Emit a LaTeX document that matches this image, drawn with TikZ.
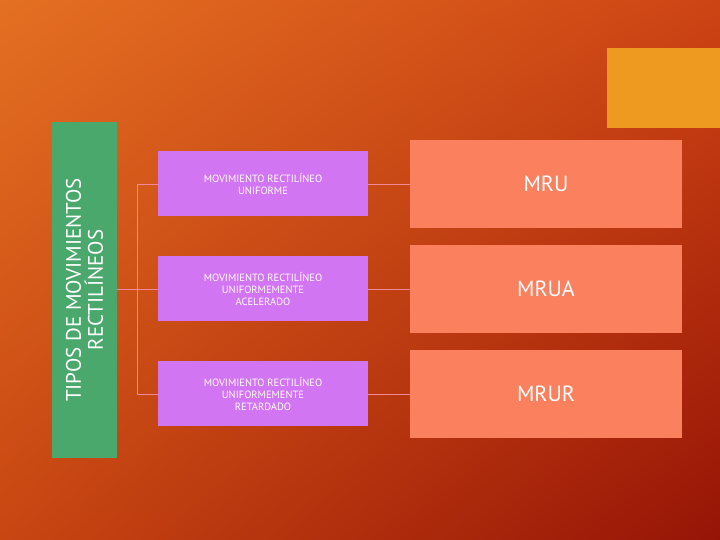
\documentclass[tikz,border=0pt]{standalone}
\usepackage{fontspec}
\setmainfont{PT Sans}
\usetikzlibrary{shadings}
\begin{document}
\begin{tikzpicture}[x=1pt,y=1pt,
  purp/.style={fill=purp,draw=none,minimum width=210,minimum height=65,align=center,text=white,font=\fontsize{10.5}{12}\selectfont,inner sep=0},
  salm/.style={fill=salm,draw=none,minimum width=272,minimum height=88,text=white,font=\fontsize{22}{24}\selectfont,inner sep=0},
  conn/.style={draw=lnk,line width=0.8}]
\definecolor{purp}{HTML}{D275F2}
\definecolor{salm}{HTML}{FA805E}
\definecolor{grn}{HTML}{4AA86C}
\definecolor{lnk}{HTML}{F08A9A}
\definecolor{og}{HTML}{EE9A20}
\definecolor{bgul}{RGB}{228,112,34}
\definecolor{bgur}{RGB}{205,68,20}
\definecolor{bgll}{RGB}{200,70,18}
\definecolor{bglr}{RGB}{150,20,6}
\useasboundingbox (0,0) rectangle (720,540);
\shade[upper left=bgul,upper right=bgur,lower left=bgll,lower right=bglr] (0,0) rectangle (720,540);
\fill[og] (607,412) rectangle (720,492);
\node[fill=grn,minimum width=65,minimum height=336,inner sep=0] (g) at (84.5,250) {};
\node[rotate=90,text=white,align=center,font=\fontsize{21}{22}\selectfont] (gt) at (84.5,250) {TIPOS DE MOVIMIENTOS\\RECTILÍNEOS};
\node[purp] (p1) at (263,356) {MOVIMIENTO RECTILÍNEO\\UNIFORME};
\node[purp] (p2) at (263,251) {MOVIMIENTO RECTILÍNEO\\UNIFORMEMENTE\\ACELERADO};
\node[purp] (p3) at (263,146) {MOVIMIENTO RECTILÍNEO\\UNIFORMEMENTE\\RETARDADO};
\node[salm] (s1) at (546,356) {MRU};
\node[salm] (s2) at (546,251) {MRUA};
\node[salm] (s3) at (546,146) {MRUR};
\coordinate (j) at (137,251);
\draw[conn] (g.east |- j) -- (j);
\draw[conn] (j) |- (p1.west);
\draw[conn] (j) -- (p2.west);
\draw[conn] (j) |- (p3.west);
\draw[conn] (p1) -- (s1);
\draw[conn] (p2) -- (s2);
\draw[conn] (p3) -- (s3);
\end{tikzpicture}
\end{document}
